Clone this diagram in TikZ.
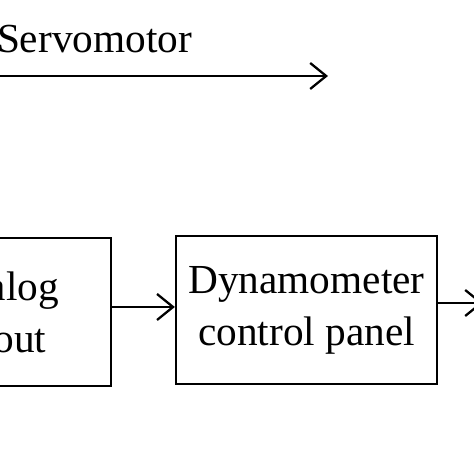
\documentclass[tikz,border=0pt]{standalone}
\usepackage{fontspec}
\setmainfont{Liberation Serif}
\usetikzlibrary{arrows.meta}

\begin{document}
\begin{tikzpicture}[
    blockbox/.style={draw, line width=1.3pt, minimum width=5.22cm, minimum height=2.96cm, align=center, inner sep=0pt},
    flow/.style={line width=1.3pt, -{Straight Barb[length=3.2mm, width=5.2mm]}},
    every node/.style={font=\fontsize{23.5}{29.5}\selectfont}
  ]
  \useasboundingbox (0,0) rectangle (9.48,9.48);
  \clip (0,0) rectangle (9.48,9.48);
  \coordinate (srvin) at (-2.78,7.96);
  \coordinate (srvout) at (6.56,7.96);
  \node[anchor=base] (srvlbl) at (1.89,8.42) {Servomotor};
  \draw[flow] (srvin) -- (srvout);
  \node[blockbox, minimum width=4.52cm] (ana) at (-0.04,3.24) {Analog\\in/out};
  \node[blockbox] (dyn) at (6.13,3.28) {Dynamometer\\control panel};
  \coordinate (anaout) at ([yshift=0.1cm]ana.east);
  \coordinate (dynout) at (9.66,3.42);
  \draw[flow] (anaout) -- (anaout -| dyn.west);
  \draw[flow] (dyn.east |- dynout) -- (dynout);
\end{tikzpicture}
\end{document}
